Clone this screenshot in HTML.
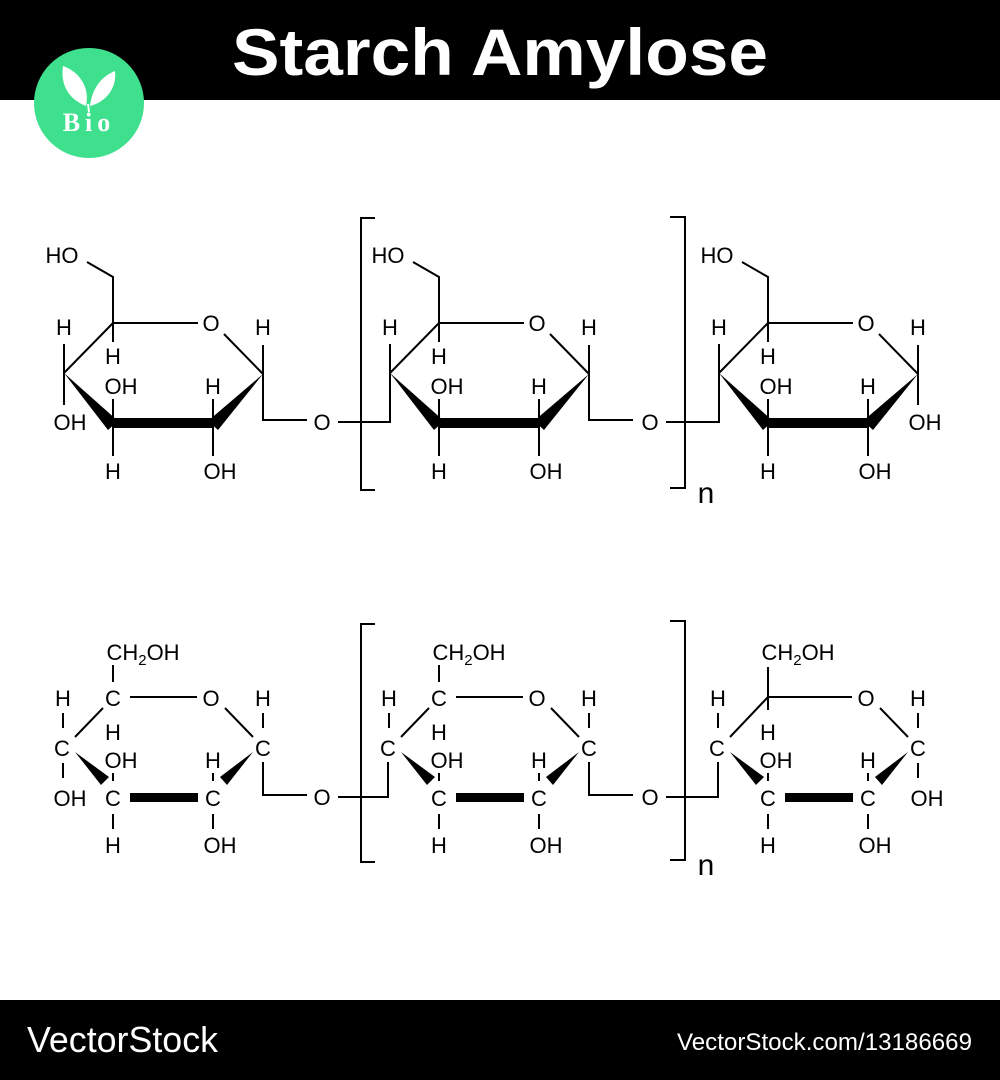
<!DOCTYPE html>
<html><head><meta charset="utf-8"><style>
html,body{margin:0;padding:0;background:#fff;}
svg{display:block;}
</style></head><body>
<svg width="1000" height="1080" viewBox="0 0 1000 1080" xmlns="http://www.w3.org/2000/svg" font-family="Liberation Sans, sans-serif">
<rect x="0" y="0" width="1000" height="100" fill="#000"/>
<text x="500" y="75" fill="#fff" font-size="66" font-weight="bold" text-anchor="middle" textLength="536" lengthAdjust="spacingAndGlyphs">Starch Amylose</text>
<circle cx="89" cy="103" r="55" fill="#3ee08e"/>
<path d="M86 106 C70 100 60 86 63 66 C80 72 90 88 86 106 Z" fill="#fff"/>
<path d="M90 106 C92 88 102 76 115 71 C117 88 106 102 90 106 Z" fill="#fff"/>
<line x1="88" y1="104" x2="89" y2="112" stroke="#fff" stroke-width="2"/>
<text x="89" y="131" fill="#fff" style="font-family:'Liberation Serif',serif" font-size="26" font-weight="bold" text-anchor="middle" letter-spacing="5">Bio</text>

<rect x="0" y="1000" width="1000" height="80" fill="#000"/>
<text x="27" y="1052" fill="#fff" font-size="36" textLength="191" lengthAdjust="spacingAndGlyphs">VectorStock</text>
<text x="972" y="1050" fill="#fff" font-size="24" text-anchor="end" textLength="295" lengthAdjust="spacingAndGlyphs">VectorStock.com/13186669</text>

<!-- TOP ROW -->
<g font-size="22" fill="#000" text-anchor="middle">
<g transform="translate(0,0)">
 <g stroke="#000" stroke-width="2" fill="none">
  <polyline points="87,262 113,277 113,323"/>
  <line x1="113" y1="323" x2="198" y2="323"/>
  <line x1="224" y1="334" x2="263" y2="374"/>
  <line x1="263" y1="345" x2="263" y2="374"/>
  <line x1="113" y1="323" x2="64" y2="373"/>
  <line x1="64" y1="344" x2="64" y2="373"/>
  <line x1="113" y1="323" x2="113" y2="342"/>
  <line x1="113" y1="399" x2="113" y2="425"/>
  <line x1="113" y1="425" x2="113" y2="456"/>
  <line x1="213" y1="399" x2="213" y2="425"/>
  <line x1="213" y1="425" x2="213" y2="456"/>
 </g>
 <polygon points="64,373 108,430 118,421" fill="#000"/>
 <rect x="113" y="418" width="100" height="10" fill="#000"/>
 <polygon points="263,374 208,421 218,430" fill="#000"/>
 <text x="62" y="263">HO</text>
 <text x="211" y="331">O</text>
 <text x="263" y="335">H</text>
 <text x="64" y="335">H</text>
 <text x="113" y="364">H</text>
 <text x="121" y="394">OH</text>
 <text x="213" y="394">H</text>
 <text x="113" y="479">H</text>
 <text x="220" y="479">OH</text>
</g>
<g transform="translate(326,0)">
 <g stroke="#000" stroke-width="2" fill="none">
  <polyline points="87,262 113,277 113,323"/>
  <line x1="113" y1="323" x2="198" y2="323"/>
  <line x1="224" y1="334" x2="263" y2="374"/>
  <line x1="263" y1="345" x2="263" y2="374"/>
  <line x1="113" y1="323" x2="64" y2="373"/>
  <line x1="64" y1="344" x2="64" y2="373"/>
  <line x1="113" y1="323" x2="113" y2="342"/>
  <line x1="113" y1="399" x2="113" y2="425"/>
  <line x1="113" y1="425" x2="113" y2="456"/>
  <line x1="213" y1="399" x2="213" y2="425"/>
  <line x1="213" y1="425" x2="213" y2="456"/>
 </g>
 <polygon points="64,373 108,430 118,421" fill="#000"/>
 <rect x="113" y="418" width="100" height="10" fill="#000"/>
 <polygon points="263,374 208,421 218,430" fill="#000"/>
 <text x="62" y="263">HO</text>
 <text x="211" y="331">O</text>
 <text x="263" y="335">H</text>
 <text x="64" y="335">H</text>
 <text x="113" y="364">H</text>
 <text x="121" y="394">OH</text>
 <text x="213" y="394">H</text>
 <text x="113" y="479">H</text>
 <text x="220" y="479">OH</text>
</g>
<g transform="translate(655,0)">
 <g stroke="#000" stroke-width="2" fill="none">
  <polyline points="87,262 113,277 113,323"/>
  <line x1="113" y1="323" x2="198" y2="323"/>
  <line x1="224" y1="334" x2="263" y2="374"/>
  <line x1="263" y1="345" x2="263" y2="374"/>
  <line x1="263" y1="374" x2="263" y2="405"/>
  <line x1="113" y1="323" x2="64" y2="373"/>
  <line x1="64" y1="344" x2="64" y2="373"/>
  <line x1="113" y1="323" x2="113" y2="342"/>
  <line x1="113" y1="399" x2="113" y2="425"/>
  <line x1="113" y1="425" x2="113" y2="456"/>
  <line x1="213" y1="399" x2="213" y2="425"/>
  <line x1="213" y1="425" x2="213" y2="456"/>
 </g>
 <polygon points="64,373 108,430 118,421" fill="#000"/>
 <rect x="113" y="418" width="100" height="10" fill="#000"/>
 <polygon points="263,374 208,421 218,430" fill="#000"/>
 <text x="62" y="263">HO</text>
 <text x="211" y="331">O</text>
 <text x="263" y="335">H</text>
 <text x="64" y="335">H</text>
 <text x="113" y="364">H</text>
 <text x="121" y="394">OH</text>
 <text x="213" y="394">H</text>
 <text x="113" y="479">H</text>
 <text x="220" y="479">OH</text>
 <text x="270" y="430">OH</text>
</g>
<line x1="64" y1="373" x2="64" y2="405" stroke="#000" stroke-width="2"/>
<text x="70" y="430">OH</text>
<g stroke="#000" stroke-width="2" fill="none">
 <polyline points="263,374 263,420 307,420"/>
 <polyline points="338,422 390,422 390,373"/>
 <polyline points="589,374 589,420 633,420"/>
 <polyline points="666,422 719,422 719,373"/>
 <polyline points="375,218 361,218 361,490 375,490"/>
 <polyline points="670,217 685,217 685,488 670,488"/>
</g>
<text x="322" y="430">O</text>
<text x="650" y="430">O</text>
<text x="706" y="503" font-size="30">n</text>
</g>

<!-- BOTTOM ROW -->
<g font-size="22" fill="#000" text-anchor="middle">
<g transform="translate(0,0)">
 <g stroke="#000" stroke-width="2" fill="none">
  <line x1="113" y1="665" x2="113" y2="682"/>
  <line x1="130" y1="697" x2="197" y2="697"/>
  <line x1="225" y1="708" x2="253" y2="737"/>
  <line x1="263" y1="713" x2="263" y2="728"/>
  <line x1="103" y1="708" x2="75" y2="737"/>
  <line x1="63" y1="713" x2="63" y2="728"/>
  <line x1="63" y1="763" x2="63" y2="778"/>
  <line x1="113" y1="773" x2="113" y2="781"/>
  <line x1="113" y1="814" x2="113" y2="829"/>
  <line x1="213" y1="773" x2="213" y2="781"/>
  <line x1="213" y1="814" x2="213" y2="829"/>
 </g>
 <polygon points="75,752 101,785 109,777" fill="#000"/>
 <rect x="130" y="793" width="68" height="9" fill="#000"/>
 <polygon points="253,752 220,777 227,785" fill="#000"/>
 <text x="143" y="660">CH<tspan font-size="15" dy="5">2</tspan><tspan dy="-5">OH</tspan></text>
 <text x="113" y="706">C</text>
 <text x="211" y="706">O</text>
 <text x="263" y="706">H</text>
 <text x="63" y="706">H</text>
 <text x="113" y="740">H</text>
 <text x="263" y="756">C</text>
 <text x="62" y="756">C</text>
 <text x="121" y="768">OH</text>
 <text x="213" y="768">H</text>
 <text x="113" y="806">C</text>
 <text x="213" y="806">C</text>
 <text x="113" y="853">H</text>
 <text x="220" y="853">OH</text>
</g>
<g transform="translate(326,0)">
 <g stroke="#000" stroke-width="2" fill="none">
  <line x1="113" y1="665" x2="113" y2="682"/>
  <line x1="130" y1="697" x2="197" y2="697"/>
  <line x1="225" y1="708" x2="253" y2="737"/>
  <line x1="263" y1="713" x2="263" y2="728"/>
  <line x1="103" y1="708" x2="75" y2="737"/>
  <line x1="63" y1="713" x2="63" y2="728"/>
  <line x1="113" y1="773" x2="113" y2="781"/>
  <line x1="113" y1="814" x2="113" y2="829"/>
  <line x1="213" y1="773" x2="213" y2="781"/>
  <line x1="213" y1="814" x2="213" y2="829"/>
 </g>
 <polygon points="75,752 101,785 109,777" fill="#000"/>
 <rect x="130" y="793" width="68" height="9" fill="#000"/>
 <polygon points="253,752 220,777 227,785" fill="#000"/>
 <text x="143" y="660">CH<tspan font-size="15" dy="5">2</tspan><tspan dy="-5">OH</tspan></text>
 <text x="113" y="706">C</text>
 <text x="211" y="706">O</text>
 <text x="263" y="706">H</text>
 <text x="63" y="706">H</text>
 <text x="113" y="740">H</text>
 <text x="263" y="756">C</text>
 <text x="62" y="756">C</text>
 <text x="121" y="768">OH</text>
 <text x="213" y="768">H</text>
 <text x="113" y="806">C</text>
 <text x="213" y="806">C</text>
 <text x="113" y="853">H</text>
 <text x="220" y="853">OH</text>
</g>
<g transform="translate(655,0)">
 <g stroke="#000" stroke-width="2" fill="none">
  <line x1="113" y1="667" x2="113" y2="697"/>
  <line x1="113" y1="697" x2="197" y2="697"/>
  <line x1="113" y1="697" x2="113" y2="710"/>
  <line x1="225" y1="708" x2="253" y2="737"/>
  <line x1="263" y1="713" x2="263" y2="728"/>
  <line x1="263" y1="763" x2="263" y2="778"/>
  <line x1="113" y1="697" x2="75" y2="737"/>
  <line x1="63" y1="713" x2="63" y2="728"/>
  <line x1="113" y1="773" x2="113" y2="781"/>
  <line x1="113" y1="814" x2="113" y2="829"/>
  <line x1="213" y1="773" x2="213" y2="781"/>
  <line x1="213" y1="814" x2="213" y2="829"/>
 </g>
 <polygon points="75,752 101,785 109,777" fill="#000"/>
 <rect x="130" y="793" width="68" height="9" fill="#000"/>
 <polygon points="253,752 220,777 227,785" fill="#000"/>
 <text x="143" y="660">CH<tspan font-size="15" dy="5">2</tspan><tspan dy="-5">OH</tspan></text>
 <text x="211" y="706">O</text>
 <text x="263" y="706">H</text>
 <text x="63" y="706">H</text>
 <text x="113" y="740">H</text>
 <text x="263" y="756">C</text>
 <text x="62" y="756">C</text>
 <text x="121" y="768">OH</text>
 <text x="213" y="768">H</text>
 <text x="113" y="806">C</text>
 <text x="213" y="806">C</text>
 <text x="113" y="853">H</text>
 <text x="220" y="853">OH</text>
 <text x="272" y="806">OH</text>
</g>
<text x="70" y="806">OH</text>
<g stroke="#000" stroke-width="2" fill="none">
 <polyline points="263,762 263,795 307,795"/>
 <polyline points="338,797 388,797 388,762"/>
 <polyline points="589,762 589,795 633,795"/>
 <polyline points="666,797 718,797 718,762"/>
 <polyline points="375,624 361,624 361,862 375,862"/>
 <polyline points="670,621 685,621 685,860 670,860"/>
</g>
<text x="322" y="805">O</text>
<text x="650" y="805">O</text>
<text x="706" y="875" font-size="30">n</text>
</g>
</svg>
</body></html>
